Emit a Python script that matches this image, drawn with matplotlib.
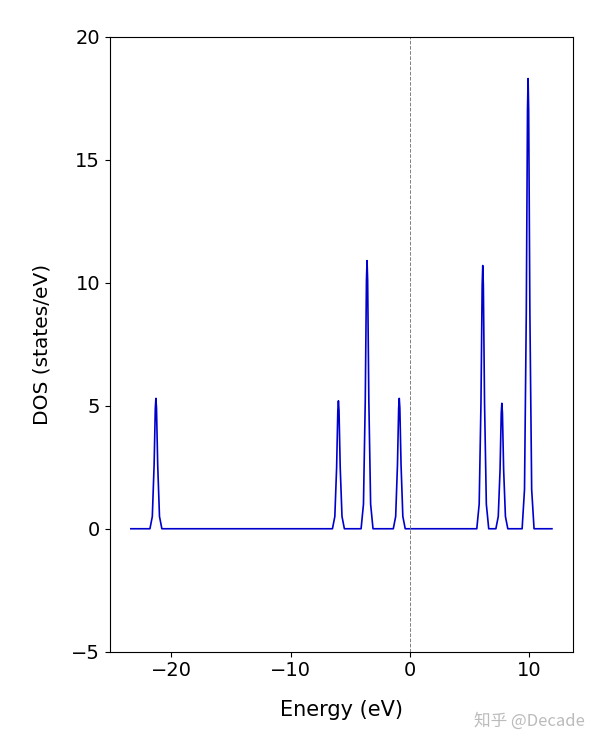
import matplotlib
matplotlib.use("Agg")
import matplotlib.pyplot as plt

# Sampled DOS curve (energy in eV, states/eV)
energy = [-23.4, -21.8, -21.6, -21.45, -21.35, -21.3, -21.25, -21.15, -21.0, -20.8,
          -6.5, -6.3, -6.15, -6.05, -6.0, -5.95, -5.85, -5.7, -5.5,
          -4.1, -3.9, -3.75, -3.65, -3.6, -3.55, -3.45, -3.3, -3.1,
          -1.4, -1.2, -1.05, -0.95, -0.9, -0.85, -0.75, -0.6, -0.4,
          5.6, 5.8, 5.95, 6.05, 6.1, 6.15, 6.25, 6.4, 6.6,
          7.2, 7.4, 7.55, 7.65, 7.7, 7.75, 7.85, 8.0, 8.2,
          9.4, 9.6, 9.75, 9.85, 9.9, 9.95, 10.05, 10.2, 10.4, 11.9]
dos = [0, 0, 0.5, 2.6, 4.9, 5.3, 4.9, 2.6, 0.5, 0,
       0, 0.5, 2.5, 4.8, 5.2, 4.8, 2.5, 0.5, 0,
       0, 1.0, 5.2, 10.1, 10.9, 10.1, 5.2, 1.0, 0,
       0, 0.5, 2.6, 4.9, 5.3, 4.9, 2.6, 0.5, 0,
       0, 1.0, 5.1, 9.9, 10.7, 9.9, 5.1, 1.0, 0,
       0, 0.5, 2.4, 4.7, 5.1, 4.7, 2.4, 0.5, 0,
       0, 1.6, 8.8, 17.0, 18.3, 17.0, 8.8, 1.6, 0, 0]

fig = plt.figure(figsize=(6, 7.5), dpi=100)
ax = fig.add_axes([0.183, 0.131, 0.772, 0.820])
ax.plot(energy, dos, color="#0000cc", lw=1.2)
ax.axvline(0, color="gray", ls="--", lw=0.7)
ax.set_ylim(-5, 20)
ax.set_yticks([-5, 0, 5, 10, 15, 20])
ax.set_xticks([-20, -10, 0, 10])
ax.tick_params(labelsize=14)
ax.set_xlabel("Energy (eV)", fontsize=15, labelpad=14)
ax.set_ylabel("DOS (states/eV)", fontsize=14.5, labelpad=14)
fig.text(0.975, 0.027, "知乎 @Decade", ha="right", va="bottom", color="#bbbbbb",
         fontsize=12, family=["Noto Sans CJK SC", "DejaVu Sans"])
fig.savefig("out.png", dpi=100)
